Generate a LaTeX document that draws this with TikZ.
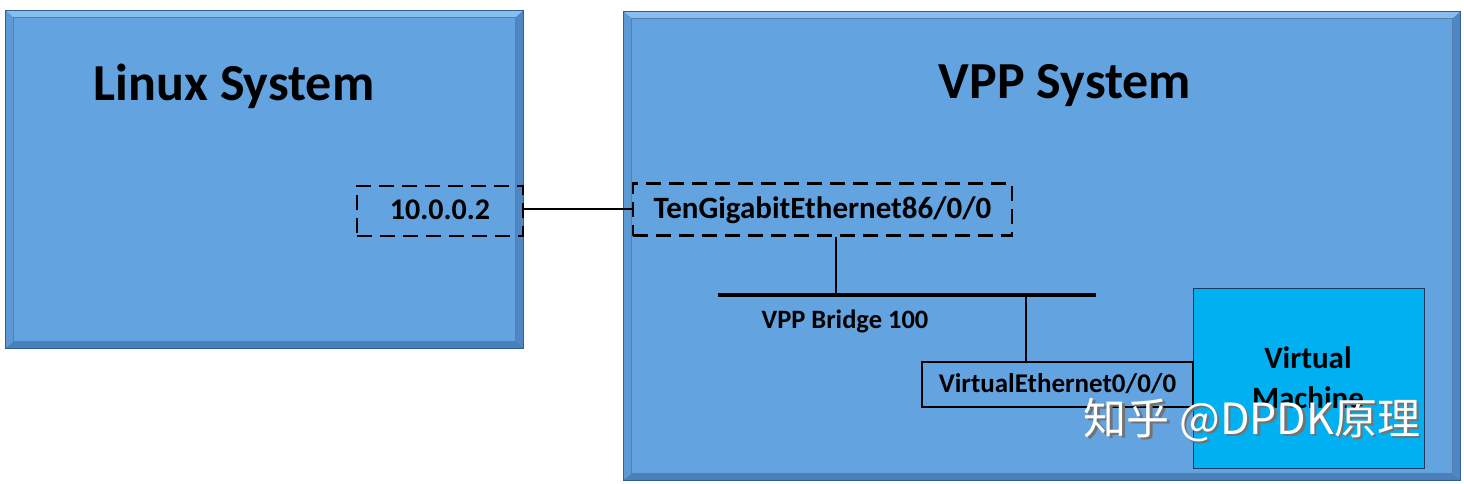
\documentclass[tikz,border=0pt]{standalone}
\usepackage{fontspec}
\setmainfont{Carlito}
\newfontfamily\cjkfont{Noto Sans CJK SC}
\usetikzlibrary{positioning}
\definecolor{boxfill}{HTML}{63A3DF}
\definecolor{boxline}{HTML}{2F5F94}
\definecolor{bevtop}{HTML}{86BEEE}
\definecolor{bevleft}{HTML}{5C9AD6}
\definecolor{bevright}{HTML}{4E87C4}
\definecolor{bevbot}{HTML}{4A80BA}
\definecolor{vmfill}{HTML}{00B0F0}
\definecolor{vmline}{HTML}{1F3864}
\begin{document}
\begin{tikzpicture}[x=1pt,y=-1pt,
  sysbox/.style={draw=boxline,fill=boxfill,line width=1.2pt,inner sep=0pt},
  title/.style={font=\bfseries\fontsize{52}{60}\selectfont,anchor=base,inner sep=0pt},
  ifbox/.style={draw,dashed,dash pattern=on 15pt off 8pt,line width=2.6pt,inner sep=0pt,text height=17pt,text depth=0pt,font=\bfseries\fontsize{30}{34}\selectfont},
  vethbox/.style={draw,line width=2.2pt,inner sep=0pt,text height=16pt,text depth=0pt,font=\bfseries\fontsize{27}{30}\selectfont},
  vmbox/.style={draw=vmline,fill=vmfill,line width=1pt,inner sep=0pt},
  wire/.style={line width=2.4pt},
  bar/.style={line width=4.5pt}]
\useasboundingbox[fill=white](0,0) rectangle (1464,483);
% the two systems
\node[sysbox,minimum width=517pt,minimum height=337pt](linux) at (264.5,179.5){};
\node[sysbox,minimum width=836pt,minimum height=468pt](vpp) at (1042,246){};
\foreach \b in {linux,vpp}{
  \fill[bevtop] (\b.north west) -- (\b.north east) -- ([shift={(-8,7)}]\b.north east) -- ([shift={(8,7)}]\b.north west) -- cycle;
  \fill[bevleft] (\b.north west) -- ([shift={(8,7)}]\b.north west) -- ([shift={(8,-7)}]\b.south west) -- (\b.south west) -- cycle;
  \fill[bevright] (\b.north east) -- ([shift={(-8,7)}]\b.north east) -- ([shift={(-8,-7)}]\b.south east) -- (\b.south east) -- cycle;
  \fill[bevbot] (\b.south west) -- ([shift={(8,-7)}]\b.south west) -- ([shift={(-8,-7)}]\b.south east) -- (\b.south east) -- cycle;
  \draw[boxline,line width=1.2pt] (\b.north west) rectangle (\b.south east);
  \draw[boxline!80,line width=0.8pt] ([shift={(8,7)}]\b.north west) rectangle ([shift={(-8,-7)}]\b.south east);
}
\node[title](linuxlbl) at (234,100){Linux System};
\node[title](vpplbl) at (1065,98){VPP System};
% interfaces
\node[ifbox,minimum width=166pt,minimum height=50pt](ip) at (440,211){10.0.0.2};
\node[ifbox,minimum width=379pt,minimum height=52pt,font=\bfseries\fontsize{31}{34}\selectfont](ten) at (822.5,209.5){TenGigabitEthernet86/0/0};
\draw[wire]([yshift=2pt]ip.east) -- ([yshift=2pt]ip.east -| ten.west);
% bridge
\coordinate(brL) at (718,295);
\coordinate(brR) at (1096,295);
\coordinate(tap) at (1026,295);
\coordinate(drop) at (836,295);
\draw[bar](brL) -- (brR);
\draw[wire](drop |- ten.south) -- (drop);
\node[font=\bfseries\fontsize{26.5}{30}\selectfont,anchor=base,inner sep=0pt](brlbl) at (845,328){VPP Bridge 100};
% virtual machine
\node[vmbox,minimum width=231pt,minimum height=180pt](vm) at (1308.5,378){};
\node[vethbox,minimum width=271pt,minimum height=45pt](veth) at (1057.5,384.5){VirtualEthernet0/0/0};
\draw[wire](tap) -- (tap |- veth.north);
\node[font=\bfseries\fontsize{31}{40}\selectfont,align=center,anchor=base,inner sep=0pt](vmlbl) at (1308,408){Virtual\\Machine};
% watermark
\node[font=\cjkfont\fontsize{43}{48}\selectfont,text=black!55,inner sep=0pt](wmshadow) at (1254.5,422.5){知乎 @DPDK原理};
\node[font=\cjkfont\fontsize{43}{48}\selectfont,text=white,inner sep=0pt](wm) at (1252,420){知乎 @DPDK原理};
\end{tikzpicture}
\end{document}
